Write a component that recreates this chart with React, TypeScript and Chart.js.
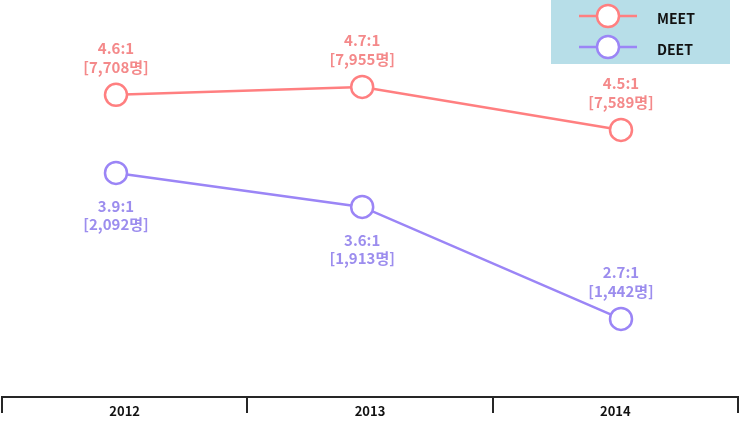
import React, { useEffect, useRef } from "react";
import { Chart, registerables } from "chart.js";

Chart.register(...registerables);

const years = ["2012", "2013", "2014"];
const seriesNames = ["MEET", "DEET"];
const meetRatio = ["4.6:1", "4.7:1", "4.5:1"];
const meetCount = ["[7,708명]", "[7,955명]", "[7,589명]"];
const deetRatio = ["3.9:1", "3.6:1", "2.7:1"];
const deetCount = ["[2,092명]", "[1,913명]", "[1,442명]"];
// plotted levels (ratio-like units)
const meetLevel = [4.59, 4.66, 4.28];
const deetLevel = [3.9, 3.6, 2.61];
// horizontal positions of the points (year index, as drawn)
const xPos = [0, 0.975, 2];
const meetSide = ["above", "above", "above"];
const deetSide = ["below", "below", "above"];

const FONT = "'Noto Sans CJK KR', 'Noto Sans', sans-serif";
const MEET_LINE = "#FF7F80";
const MEET_TEXT = "#F4898A";
const DEET_LINE = "#9B85F6";
const DEET_TEXT = "#9C8DEE";

const labelPlugin = {
  id: "pointLabels",
  afterDatasetsDraw(chart: any) {
    const ctx = chart.ctx;
    const info = [
      { ratio: meetRatio, count: meetCount, side: meetSide, color: MEET_TEXT },
      { ratio: deetRatio, count: deetCount, side: deetSide, color: DEET_TEXT },
    ];
    ctx.save();
    ctx.font = `bold 15px ${FONT}`;
    ctx.textAlign = "center";
    ctx.textBaseline = "middle";
    chart.data.datasets.forEach((_: any, di: number) => {
      const meta = chart.getDatasetMeta(di);
      const d = info[di];
      ctx.fillStyle = d.color;
      meta.data.forEach((el: any, i: number) => {
        const x = el.x;
        const y = el.y;
        if (d.side[i] === "above") {
          ctx.fillText(d.ratio[i], x, y - 47);
          ctx.fillText(d.count[i], x, y - 28);
        } else {
          ctx.fillText(d.ratio[i], x, y + 33);
          ctx.fillText(d.count[i], x, y + 51);
        }
      });
    });
    ctx.restore();
  },
};

const legendPlugin = {
  id: "boxLegend",
  afterDraw(chart: any) {
    const ctx = chart.ctx;
    ctx.save();
    ctx.fillStyle = "#B7DEE8";
    ctx.fillRect(551, 0, 179, 64);
    const colors = [MEET_LINE, DEET_LINE];
    const cys = [16, 47];
    seriesNames.forEach((name, i) => {
      const cy = cys[i];
      ctx.strokeStyle = colors[i];
      ctx.lineWidth = 2.5;
      ctx.beginPath();
      ctx.moveTo(579, cy);
      ctx.lineTo(637, cy);
      ctx.stroke();
      ctx.beginPath();
      ctx.arc(608, cy, 11, 0, Math.PI * 2);
      ctx.fillStyle = "#fff";
      ctx.fill();
      ctx.stroke();
      ctx.fillStyle = "#111";
      ctx.font = `bold 14px ${FONT}`;
      ctx.textAlign = "left";
      ctx.textBaseline = "middle";
      ctx.fillText(name, 657, cy + 3);
    });
    ctx.restore();
  },
};

export default function App() {
  const ref = useRef<HTMLCanvasElement>(null);
  useEffect(() => {
    if (!ref.current) return;
    const mk = (vals: number[]) => vals.map((y, i) => ({ x: xPos[i], y }));
    const chart = new Chart(ref.current, {
      type: "line",
      data: {
        labels: years,
        datasets: [
          {
            label: seriesNames[0],
            data: mk(meetLevel),
            xAxisID: "xp",
            borderColor: MEET_LINE,
            borderWidth: 2.5,
            pointRadius: 11,
            pointBorderWidth: 2.5,
            pointBackgroundColor: "#fff",
            pointBorderColor: MEET_LINE,
            tension: 0,
          },
          {
            label: seriesNames[1],
            data: mk(deetLevel),
            xAxisID: "xp",
            borderColor: DEET_LINE,
            borderWidth: 2.5,
            pointRadius: 11,
            pointBorderWidth: 2.5,
            pointBackgroundColor: "#fff",
            pointBorderColor: DEET_LINE,
            tension: 0,
          },
        ],
      } as any,
      options: {
        animation: false,
        responsive: false,
        layout: { autoPadding: false, padding: { left: 2, right: 2, top: 10, bottom: 0 } },
        plugins: { legend: { display: false }, tooltip: { enabled: false } },
        scales: {
          x: {
            type: "category",
            position: "bottom",
            offset: true,
            grid: {
              offset: true,
              drawOnChartArea: false,
              drawTicks: true,
              tickLength: 16,
              color: "#262626",
              lineWidth: 2,
            },
            border: { display: true, color: "#262626", width: 2 },
            ticks: {
              font: { family: FONT, size: 13, weight: "bold" },
              color: "#111",
              padding: -10,
            },
            afterFit(scale: any) {
              scale.height = 33;
            },
          },
          xp: {
            type: "linear",
            axis: "x",
            display: false,
            min: -0.4515,
            max: 2.4634,
          },
          y: { display: false, min: 1.92, max: 5.34 },
        },
      } as any,
      plugins: [labelPlugin, legendPlugin],
    });
    return () => chart.destroy();
  }, []);
  return (
    <div style={{ position: "absolute", left: 0, top: 0, width: 740, height: 430 }}>
      <canvas ref={ref} width={740} height={430} />
    </div>
  );
}
